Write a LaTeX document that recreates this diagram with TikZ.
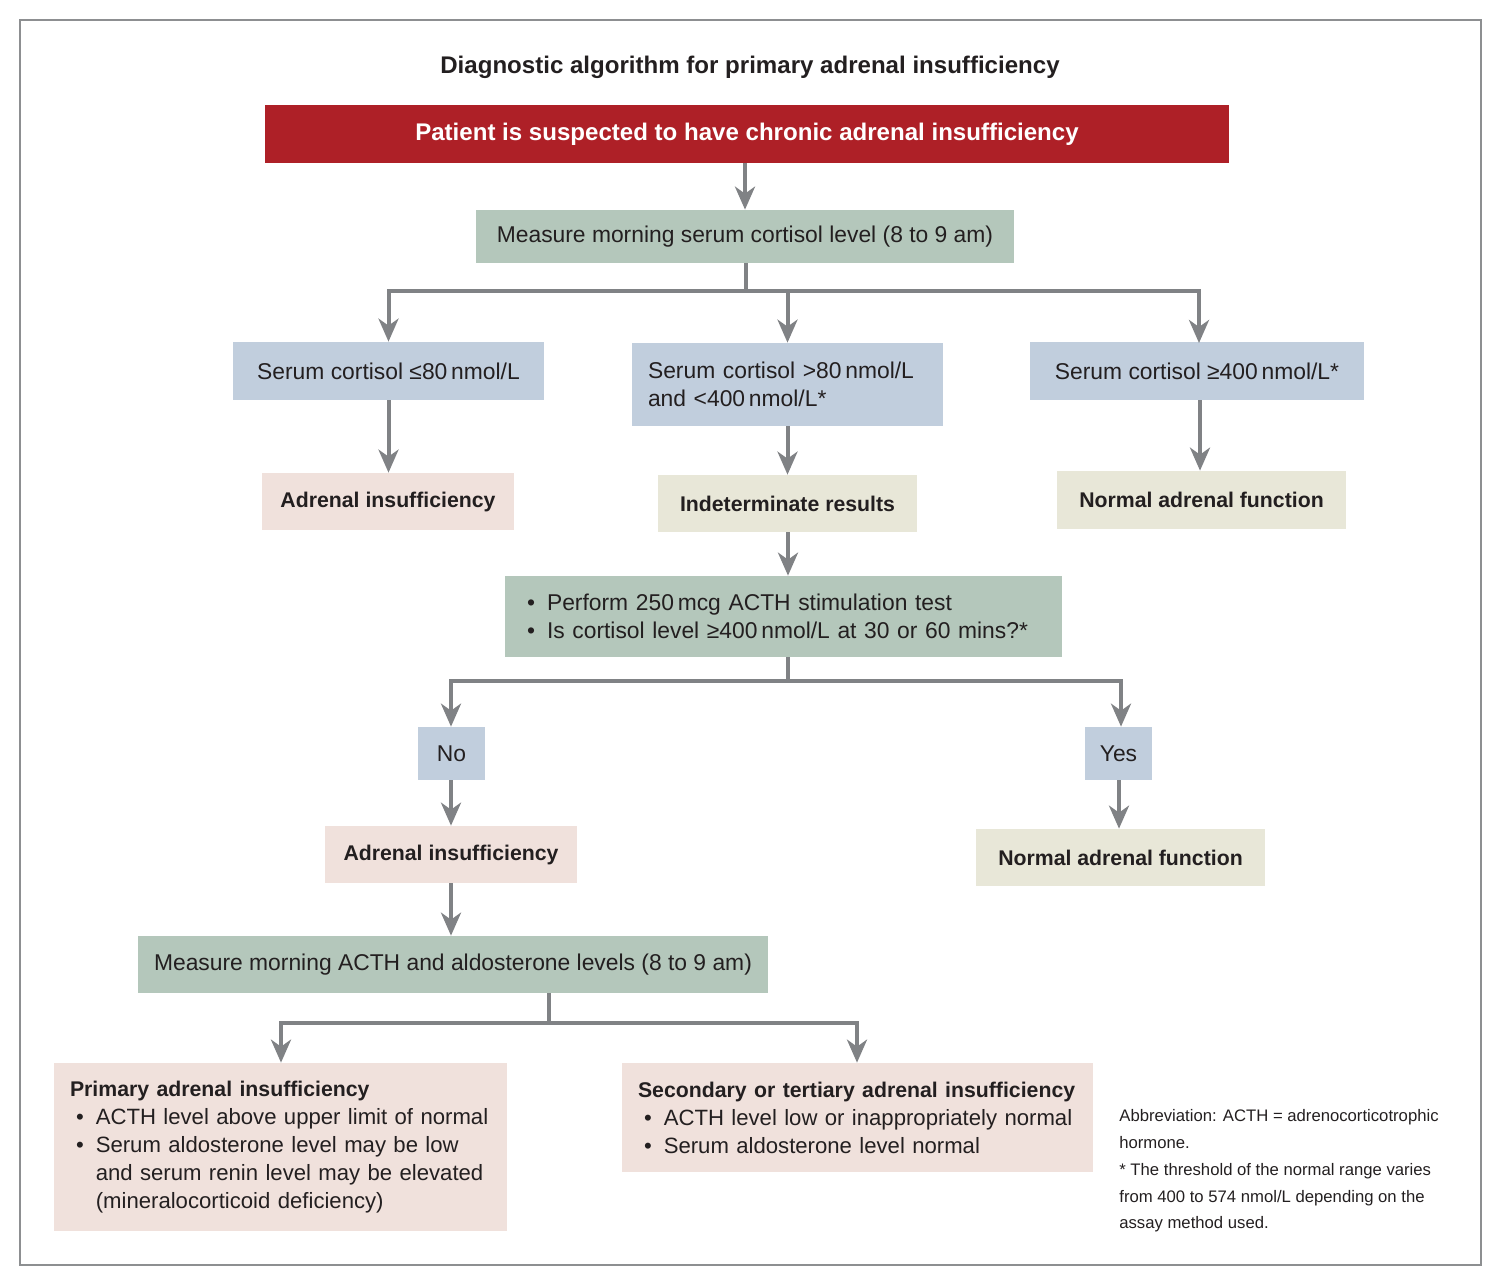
\documentclass[tikz,border=0pt]{standalone}
\usepackage{fontspec}
\setmainfont{Liberation Sans}
\usetikzlibrary{arrows.meta,positioning,calc}
\usepackage{xcolor}
\definecolor{alertred}{RGB}{174,32,39}
\definecolor{sagegreen}{RGB}{180,199,187}
\definecolor{mistblue}{RGB}{193,206,221}
\definecolor{blushpink}{RGB}{240,225,220}
\definecolor{sandbeige}{RGB}{232,231,216}
\definecolor{linegray}{RGB}{128,130,133}
\definecolor{inkdark}{RGB}{35,31,32}

\newcommand{\blt}{\hspace*{0.12cm}\textbullet\hspace{0.24cm}}
\newcommand{\bltgap}{\hspace*{0.12cm}\phantom{\textbullet}\hspace{0.24cm}}
\newcommand{\headline}[1]{\mbox{\fontsize{12.1}{15.9}\selectfont\bfseries #1}}

\begin{document}
\begin{tikzpicture}[x=0.02cm, y=-0.02cm,
    sz/.style 2 args={minimum width=#1*0.02cm, minimum height=#2*0.02cm},
    box/.style={rectangle, inner sep=0pt, text=inkdark, font=\fontsize{13}{15.9}\selectfont},
    testbox/.style={box, fill=sagegreen},
    levelbox/.style={box, fill=mistblue},
    adrbox/.style={box, fill=blushpink, font=\fontsize{12.1}{15.9}\selectfont\bfseries},
    normbox/.style={box, fill=sandbeige, font=\fontsize{12.1}{15.9}\selectfont\bfseries},
    outcome/.style={box, fill=blushpink, align=left, font=\fontsize{12.6}{15.9}\selectfont},
    arr/.style={-{Stealth[length=0.46cm, width=0.4cm, inset=0.14cm]}, draw=linegray, line width=0.08cm},
    link/.style={draw=linegray, line width=0.08cm}]

    \useasboundingbox (0,0) rectangle (1500,1285);
    \draw[linegray!90, line width=0.04cm] (20,20) rectangle (1481,1265);

    \node[font=\fontsize{13.7}{16}\selectfont\bfseries, text=inkdark] (title) at (750,67) {Diagnostic algorithm for primary adrenal insufficiency};

    % top of the algorithm
    \node[box, fill=alertred, text=white, font=\fontsize{13.7}{16}\selectfont\bfseries, sz={964}{58}] (suspect) at (747,134) {Patient is suspected to have chronic adrenal insufficiency};
    \node[testbox, sz={538}{53}] (morning) at (745,236.5) {Measure morning serum cortisol level (8 to 9 am)};

    % cortisol levels
    \node[levelbox, sz={311}{58}] (low) at (388.5,371) {Serum cortisol ≤80\,nmol/L};
    \node[levelbox, sz={311}{83}, align=left, text width=5.58cm] (mid) at (787.5,384.5) {\mbox{Serum cortisol >80\,nmol/L}\\\mbox{and <400\,nmol/L*}};
    \node[levelbox, sz={334}{58}] (high) at (1197,371) {Serum cortisol ≥400\,nmol/L*};

    \node[adrbox, sz={252}{57}] (adr1) at (388,501.5) {Adrenal insufficiency};
    \node[normbox, sz={259}{57}] (indet) at (787.5,503.5) {Indeterminate results};
    \node[normbox, sz={289}{58}] (norm1) at (1201.5,500) {Normal adrenal function};

    % stimulation test
    \node[testbox, sz={557}{81}, align=left, text width=10.5cm] (stim) at (783.5,616.5) {\mbox{\blt Perform 250\,mcg ACTH stimulation test}\\\mbox{\blt Is cortisol level ≥400\,nmol/L at 30 or 60 mins?*}};
    \node[levelbox, sz={67}{53}] (no) at (451.5,753.5) {No};
    \node[levelbox, sz={67}{53}] (yes) at (1118.5,753.5) {Yes};
    \node[adrbox, sz={252}{57}] (adr2) at (451,854.5) {Adrenal insufficiency};
    \node[normbox, sz={289}{57}] (norm2) at (1120.5,857.5) {Normal adrenal function};

    % ACTH and aldosterone
    \node[testbox, sz={630}{57}] (acth) at (453,964.5) {Measure morning ACTH and aldosterone levels (8 to 9 am)};
    \node[outcome, sz={453}{168}, text width=8.42cm] (prim) at (280.5,1147) {\headline{Primary adrenal insufficiency}\\\mbox{\blt ACTH level above upper limit of normal}\\\mbox{\blt Serum aldosterone level may be low}\\\mbox{\bltgap and serum renin level may be elevated}\\\mbox{\bltgap (mineralocorticoid deficiency)}};
    \node[outcome, sz={471}{109}, text width=8.78cm] (sec) at (857.5,1117.5) {\headline{Secondary or tertiary adrenal insufficiency}\\\mbox{\blt ACTH level low or inappropriately normal}\\\mbox{\blt Serum aldosterone level normal}};

    \node[anchor=north west, inner sep=0pt, align=left, text=inkdark, font=\fontsize{9.5}{15.3}\selectfont] (notes) at (1119,1109) {Abbreviation: ACTH = adrenocorticotrophic\\hormone.\\* The threshold of the normal range varies\\from 400 to 574 nmol/L depending on the\\assay method used.};

    % forks
    \coordinate (fork1) at (746,291);
    \coordinate (fork2) at (788,681);
    \coordinate (fork3) at (549,1023);

    \draw[arr] (suspect.south -| morning) -- (morning.north);
    \draw[link] (morning.south -| fork1) -- (fork1);
    \draw[arr] (fork1) -| (low.north);
    \draw[arr] (fork1) -| (mid.north);
    \draw[arr] (fork1) -| (1199,343);
    \draw[arr] (low.south) -- (adr1.north -| low);
    \draw[arr] (mid.south) -- (indet.north -| mid);
    \draw[arr] (high.south -| 1200,0) -- (norm1.north -| 1200,0);
    \draw[arr] (indet.south -| fork2) -- (stim.north -| fork2);
    \draw[link] (stim.south -| fork2) -- (fork2);
    \draw[arr] (fork2) -| (no.north -| 451,0);
    \draw[arr] (fork2) -| (yes.north -| 1121,0);
    \draw[arr] (no.south -| 451,0) -- (adr2.north -| 451,0);
    \draw[arr] (yes.south -| 1119,0) -- (norm2.north -| 1119,0);
    \draw[arr] (adr2.south -| 451,0) -- (acth.north -| 451,0);
    \draw[link] (acth.south -| fork3) -- (fork3);
    \draw[arr] (fork3) -| (prim.north -| 281,0);
    \draw[arr] (fork3) -| (sec.north -| 857,0);
\end{tikzpicture}
\end{document}
